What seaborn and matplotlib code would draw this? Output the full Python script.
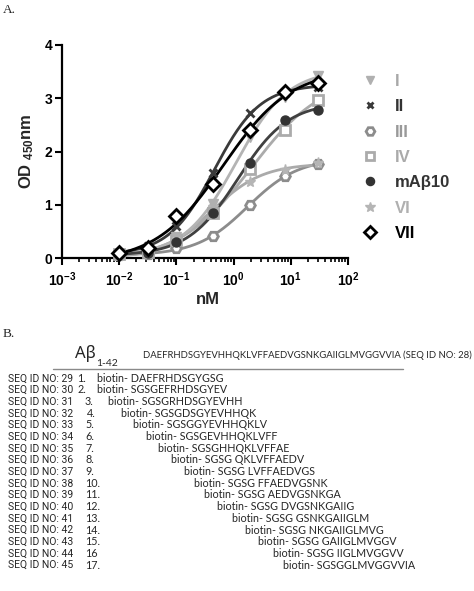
import numpy as np
import pandas as pd
import matplotlib
matplotlib.use("Agg")
import matplotlib.pyplot as plt
import seaborn as sns
from matplotlib.lines import Line2D
from matplotlib import font_manager

# ---------------- data ----------------
conc_nM = [0.01, 0.032, 0.1, 0.44, 1.9, 7.8, 30.0]
series_names = ["I", "II", "III", "IV", "mAβ10", "VI", "VII"]
od_I = [0.08, 0.12, 0.40, 1.02, 2.28, 3.03, 3.42]
od_II = [0.10, 0.22, 0.60, 1.59, 2.72, 3.10, 3.22]
od_III = [0.05, 0.08, 0.18, 0.42, 0.99, 1.54, 1.76]
od_IV = [0.07, 0.12, 0.34, 0.85, 1.68, 2.41, 2.97]
od_mAb10 = [0.07, 0.10, 0.30, 0.84, 1.78, 2.59, 2.78]
od_VI = [0.06, 0.10, 0.32, 0.95, 1.42, 1.65, 1.78]
od_VII = [0.10, 0.18, 0.79, 1.39, 2.40, 3.12, 3.29]
x_tick_exponents = [-3, -2, -1, 0, 1, 2]
y_ticks = [0, 1, 2, 3, 4]

abeta_seq = "DAEFRHDSGYEVHHQKLVFFAEDVGSNKGAIIGLMVGGVVIA (SEQ ID NO: 28)"
seq_ids = [f"SEQ ID NO: {n}" for n in range(29, 46)]
row_numbers = ["1.", "2.", "3.", "4.", "5.", "6.", "7.", "8.", "9.", "10.",
               "11.", "12.", "13.", "14.", "15.", "16", "17."]
peptides = ["DAEFRHDSGYGSG", "SGSGEFRHDSGYEV", "SGSGRHDSGYEVHH", "SGSGDSGYEVHHQK",
            "SGSGGYEVHHQKLV", "SGSGEVHHQKLVFF", "SGSGHHQKLVFFAE", "SGSG QKLVFFAEDV",
            "SGSG LVFFAEDVGS", "SGSG FFAEDVGSNK", "SGSG AEDVGSNKGA", "SGSG DVGSNKGAIIG",
            "SGSG GSNKGAIIGLM", "SGSG NKGAIIGLMVG", "SGSG GAIIGLMVGGV", "SGSG IIGLMVGGVV",
            "SGSGGLMVGGVVIA"]

# ---------------- styles / layout ----------------
styles = {
    "I":     dict(marker="v", mfc="#b0b0b0", mec="#b0b0b0", ms=7, mew=1, lc="#b4b4b4", tc="#a8a8a8"),
    "II":    dict(marker="x", mfc="#3a3a3a", mec="#3a3a3a", ms=5.5, mew=2.0, lc="#3a3a3a", tc="#333333"),
    "III":   dict(marker="H", mfc="white", mec="#8c8c8c", ms=7, mew=2.0, lc="#8c8c8c", tc="#999999"),
    "IV":    dict(marker="s", mfc="white", mec="#ababab", ms=6.5, mew=2.0, lc="#ababab", tc="#aaaaaa"),
    "mAβ10": dict(marker="o", mfc="#333333", mec="#333333", ms=6.5, mew=1, lc="#404040", tc="#333333"),
    "VI":    dict(marker="*", mfc="#b5b5b5", mec="#b5b5b5", ms=8, mew=1, lc="#aaaaaa", tc="#b0b0b0"),
    "VII":   dict(marker="D", mfc="white", mec="black", ms=7, mew=2.0, lc="black", tc="black"),
}

W, H = 474, 591
def fx(px): return px / W
def fy(py): return 1 - py / H

sns.set_style("ticks")
plt.rcParams["font.family"] = ["Liberation Sans", "DejaVu Sans"]
plt.rcParams["mathtext.fontset"] = "custom"
plt.rcParams["mathtext.rm"] = "Liberation Sans:bold"
plt.rcParams["mathtext.bf"] = "Liberation Sans:bold"
plt.rcParams["mathtext.it"] = "Liberation Sans:bold:italic"
plt.rcParams["mathtext.default"] = "bf"

fig = plt.figure(figsize=(W / 100, H / 100), dpi=100)
renderer = fig.canvas.get_renderer()
ax = fig.add_axes([fx(62), fy(258), fx(348) - fx(62), fy(45) - fy(258)])


def fit4pl(lx, y):
    lx = np.asarray(lx); y = np.asarray(y)
    def f(p, l):
        return p[0] + (p[1] - p[0]) / (1 + 10 ** ((p[2] - l) * p[3]))
    p = np.array([y.min(), y.max() * 1.05, np.median(lx), 1.0])
    lam = 1e-2
    for _ in range(400):
        r = y - f(p, lx)
        J = np.empty((len(lx), 4))
        for k in range(4):
            dp = np.zeros(4); dp[k] = 1e-6
            J[:, k] = (f(p + dp, lx) - f(p - dp, lx)) / 2e-6
        A = J.T @ J; g = J.T @ r
        step = np.linalg.solve(A + lam * np.diag(np.diag(A) + 1e-9), g)
        pn = p + step
        if np.sum((y - f(pn, lx)) ** 2) < np.sum(r ** 2):
            p = pn; lam *= 0.5
        else:
            lam *= 4
    return lambda l: f(p, l)


all_series = [od_I, od_II, od_III, od_IV, od_mAb10, od_VI, od_VII]
x = np.array(conc_nM)
lx = np.log10(x)
handles = []
draw_order = ["III", "VI", "IV", "I", "mAβ10", "II", "VII"]
for z, name in enumerate(draw_order):
    vals = np.array(all_series[series_names.index(name)])
    st = styles[name]
    model = fit4pl(lx, vals)
    lgrid = np.linspace(lx.min(), lx.max(), 200)
    fit_df = pd.DataFrame({"x": 10 ** lgrid, "y": model(lgrid)})
    sns.lineplot(data=fit_df, x="x", y="y", ax=ax, color=st["lc"], lw=2.0,
                 zorder=2 + z, legend=False)
    ax.plot(x, vals, linestyle="none", marker=st["marker"], mfc=st["mfc"],
            mec=st["mec"], ms=st["ms"], mew=st["mew"], zorder=10 + z, clip_on=False)

for name in series_names:
    st = styles[name]
    handles.append(Line2D([], [], linestyle="none", marker=st["marker"], mfc=st["mfc"],
                          mec=st["mec"], ms=st["ms"] * 0.9, mew=st["mew"], label=name))

ax.set_xscale("log")
ax.set_xlim(1e-3, 1e2)
ax.set_ylim(0, 4)
ax.set_xticks([10.0 ** e for e in x_tick_exponents],
              labels=[r"$\mathbf{10^{%d}}$" % e for e in x_tick_exponents])
ax.xaxis.set_minor_locator(matplotlib.ticker.LogLocator(base=10, subs=np.arange(2, 10)))
ax.xaxis.set_minor_formatter(matplotlib.ticker.NullFormatter())
ax.set_yticks(y_ticks, labels=[str(v) for v in y_ticks])
for lab in ax.get_yticklabels():
    lab.set_fontweight("bold")
ax.tick_params(axis="both", which="major", length=5, width=1.5, labelsize=10, pad=2,
               color="black", labelcolor="black")
ax.tick_params(axis="x", which="minor", length=3, width=1.2, color="black")
ax.tick_params(axis="x", which="major", pad=4)
for s in ["left", "bottom"]:
    ax.spines[s].set_linewidth(1.6)
    ax.spines[s].set_color("black")
sns.despine(ax=ax)
ax.set_xlabel("")
ax.set_ylabel("")

fig.text(fx(27), fy(151), r"OD $_{450}$nm", rotation=90, ha="center", va="center",
         fontsize=12, fontweight="bold")
fig.text(fx(208), fy(300), "nM", ha="center", va="center", fontsize=12, fontweight="bold")

leg = ax.legend(handles=handles, loc="upper left",
                bbox_to_anchor=(fx(362), fy(74)), bbox_transform=fig.transFigure,
                frameon=False, handlelength=1.0, handletextpad=1.0, labelspacing=0.62,
                borderpad=0, borderaxespad=0,
                prop={"family": "Liberation Sans", "weight": "bold", "size": 12})
for txt, name in zip(leg.get_texts(), series_names):
    txt.set_color(styles[name]["tc"])

# ---------------- panel labels ----------------
serif = ["Liberation Serif", "DejaVu Serif"]
fig.text(fx(3), fy(10), "A.", family=serif, fontsize=9.5, ha="left", va="center")
fig.text(fx(3), fy(334), "B.", family=serif, fontsize=9.5, ha="left", va="center")

# ---------------- peptide table ----------------
tfont = ["Lato", "Noto Sans", "DejaVu Sans"]
installed = {f.name for f in font_manager.fontManager.ttflist}
idfont = ["Liberation Sans Narrow"] if "Liberation Sans Narrow" in installed else ["Roboto", "Lato"]


def size_for_width(s, family, target_px, base=10.0):
    t = fig.text(0, 0, s, family=family, fontsize=base)
    w = t.get_window_extent(renderer).width
    t.remove()
    return base * target_px / w


head_size = size_for_width(abeta_seq, tfont, 328)
pep_size = size_for_width("biotin- " + peptides[0], tfont, 126)
id_size = min(pep_size, size_for_width(seq_ids[0], idfont, 65))

fig.text(fx(75), fy(353), "Aβ", family=["Noto Sans", "DejaVu Sans"], fontsize=12,
         ha="left", va="center")
fig.text(fx(96), fy(363), "1-42", family=tfont, fontsize=7.5, ha="left", va="center")
fig.text(fx(143), fy(355), abeta_seq, family=tfont, fontsize=head_size, ha="left", va="center")
fig.add_artist(Line2D([fx(53), fx(403)], [fy(368.5), fy(368.5)], color="#8a8a8a", lw=1.0))

num_x = [77, 77, 85, 87] + [85] * 13
pep_x = [97, 97, 108, 121, 133, 146, 158, 171, 184, 194, 204, 217, 232, 245, 258, 273, 283]
for i in range(len(seq_ids)):
    yc = 378.3 + i * 11.67
    fig.text(fx(8), fy(yc), seq_ids[i], family=idfont, fontsize=id_size, ha="left", va="center")
    fig.text(fx(num_x[i]), fy(yc), row_numbers[i], family=tfont, fontsize=pep_size,
             ha="left", va="center")
    fig.text(fx(pep_x[i]), fy(yc), "biotin- " + peptides[i], family=tfont, fontsize=pep_size,
             ha="left", va="center")

fig.savefig("out.png", dpi=100)
